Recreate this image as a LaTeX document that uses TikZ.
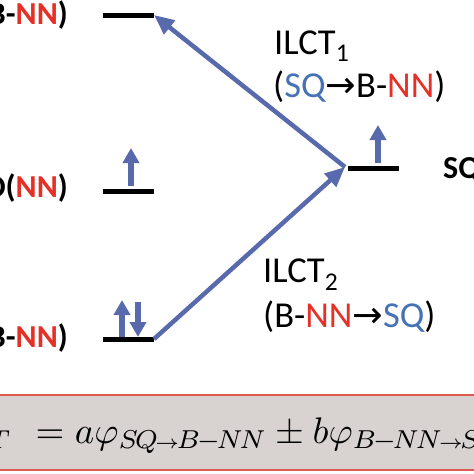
\documentclass[tikz,border=0pt]{standalone}
\usepackage{fontspec}
\setmainfont{Carlito}
\newfontfamily\arrowfont{DejaVu Sans}
\usetikzlibrary{arrows.meta}

\definecolor{ctblue}{RGB}{88,106,172}
\definecolor{sqblue}{RGB}{68,114,180}
\definecolor{nnred}{RGB}{228,48,38}
\definecolor{boxgray}{RGB}{216,211,209}
\definecolor{boxred}{RGB}{222,90,80}

\newcommand{\SQ}{\textcolor{sqblue}{SQ}}
\newcommand{\NN}{\textcolor{nnred}{NN}}
\newcommand{\ctto}{{\arrowfont →}}
\newcommand{\subto}{\mathrel{\scriptscriptstyle\rightarrow}}
\newcommand{\kk}{\mkern-2mu}

\tikzset{
  level/.style={line width=5pt, black},
  ct/.style={line width=4.5pt, ctblue, -{Triangle[length=20pt,width=17pt]}},
  spin/.style={line width=5.5pt, ctblue, -{Triangle[length=15pt,width=16pt]}},
  lbl/.style={font=\fontsize{36.5}{40}\selectfont, inner sep=0pt},
  orb/.style={font=\bfseries\fontsize{32}{36}\selectfont, inner sep=0pt},
  formula/.style={scale=3.7, transform shape, inner sep=0pt},
}

\begin{document}
\begin{tikzpicture}[x=1pt, y=-1pt]
    \useasboundingbox (0,0) rectangle (474,474);
    \clip (0,0) rectangle (474,474);

    % Riquadro della funzione d'onda
    \fill[boxgray] (-5,395) rectangle (480,470);
    \draw[boxred, line width=1.6pt] (-5,395) -- (480,395);
    \draw[boxred, line width=1.6pt] (-5,470) -- (480,470);

    % Livelli
    \coordinate (lumoL) at (103,15);  \coordinate (lumoR) at (154,15);
    \coordinate (somoL) at (103,191); \coordinate (somoR) at (154,191);
    \coordinate (homoL) at (103,339); \coordinate (homoR) at (154,339);
    \coordinate (sqL) at (348,168);   \coordinate (sqR) at (399,168);
    \coordinate (vtx) at (345,167);
    \draw[level] (lumoL) -- (lumoR);
    \draw[level] (somoL) -- (somoR);
    \draw[level] (homoL) -- (homoR);
    \draw[level] (sqL) -- (sqR);

    % Elettroni
    \draw[spin] (131,186) -- (131,148);
    \draw[spin] (122,337) -- (122,300);
    \draw[spin] (138,302) -- (138,337);
    \draw[spin] (378,163) -- (378,125);

    % Transizioni ILCT
    \draw[ct] (vtx) -- (lumoR);
    \draw[ct] (homoR) -- (vtx);

    % Etichette
    \node[orb, anchor=base east] (lumo) at (68,24) {(B-\NN)};
    \node[orb, anchor=base east] (somo) at (68,197) {O(\NN)};
    \node[orb, anchor=base east] (homo) at (68,347) {(B-\NN)};
    \node[orb, anchor=base west] (sq) at (443,178) {SQ};

    \node[lbl, anchor=base west] (ilct1) at (274,54) {ILCT\textsubscript{1}};
    \node[lbl, anchor=base west] (dir1) at (273,97) {(\SQ\ctto B-\NN)};
    \node[lbl, anchor=base west] (ilct2) at (263,282) {ILCT\textsubscript{2}};
    \node[lbl, anchor=base west] (dir2) at (263,327) {(B-\NN\ctto\SQ)};

    % Funzione d'onda
    \node[formula, anchor=base east] (psi) at (13,443) {$\Psi_T$};
    \node[formula, anchor=base west] (eq) at (35,443)
      {$= a\varphi_{S\kk Q\kk\subto\kk B\kk-\kk N\kk N} \pm b\varphi_{B\kk-\kk N\kk N\kk\subto\kk S\kk Q}$};
\end{tikzpicture}
\end{document}
